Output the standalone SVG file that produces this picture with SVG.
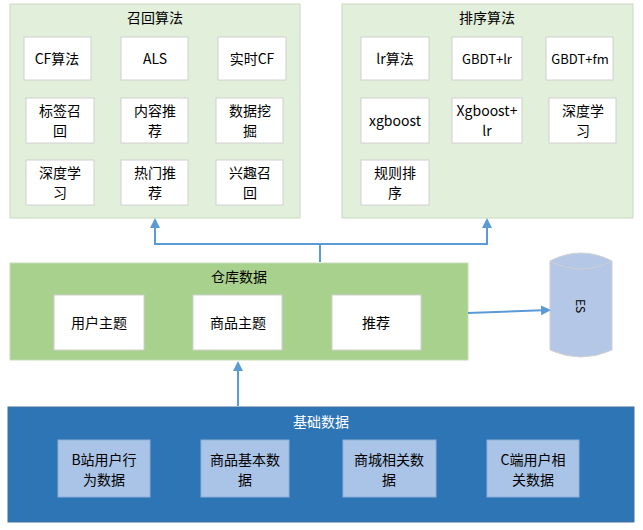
<svg xmlns="http://www.w3.org/2000/svg" width="643" height="530" viewBox="0 0 643 530">
<style>
text{font-family:"Microsoft YaHei","Noto Sans CJK SC",sans-serif;font-size:14px;text-anchor:middle;fill:#000}
.panel{fill:#e2efda;stroke:#c9d9c0;stroke-width:1}
.wb{fill:#fff;stroke:#d0d0d0;stroke-width:1}
.bb{fill:#a9c4e6;stroke:#8eb0d8;stroke-width:1}
.line{stroke:#5b9bd5;stroke-width:2;fill:none}
.w{fill:#fff}
</style>
<defs><marker id="a" markerWidth="10" markerHeight="10" refX="8" refY="5" orient="auto" markerUnits="userSpaceOnUse"><path d="M0,0L10,5L0,10z" fill="#5b9bd5"/></marker></defs>
<g id="recall">
<rect class="panel" x="10" y="4" width="290" height="214"/>
<text x="155" y="23">召回算法</text>
<rect class="wb" x="24" y="37" width="67" height="43"/><text x="57" y="64">CF算法</text>
<rect class="wb" x="121" y="37" width="67" height="43"/><text x="155" y="64">ALS</text>
<rect class="wb" x="218" y="37" width="68" height="43"/><text x="252" y="64">实时CF</text>
<rect class="wb" x="26" y="98" width="68" height="45"/><text x="60" y="116">标签召</text><text x="60" y="136">回</text>
<rect class="wb" x="121" y="98" width="67" height="45"/><text x="155" y="116">内容推</text><text x="155" y="136">荐</text>
<rect class="wb" x="216" y="98" width="67" height="45"/><text x="250" y="116">数据挖</text><text x="250" y="136">掘</text>
<rect class="wb" x="26" y="160" width="68" height="45"/><text x="60" y="178">深度学</text><text x="60" y="198">习</text>
<rect class="wb" x="121" y="160" width="67" height="45"/><text x="155" y="178">热门推</text><text x="155" y="198">荐</text>
<rect class="wb" x="216" y="160" width="67" height="45"/><text x="250" y="178">兴趣召</text><text x="250" y="198">回</text>
</g>
<g id="rank">
<rect class="panel" x="342" y="4" width="291" height="214"/>
<text x="487" y="23">排序算法</text>
<rect class="wb" x="361" y="37" width="68" height="43"/><text x="395" y="64">lr算法</text>
<rect class="wb" x="452" y="37" width="70" height="43"/><text x="487" y="64" style="font-size:13px">GBDT+lr</text>
<rect class="wb" x="546" y="37" width="67" height="43"/><text x="580" y="64" style="font-size:13px">GBDT+fm</text>
<rect class="wb" x="361" y="98" width="68" height="45"/><text x="395" y="126">xgboost</text>
<rect class="wb" x="452" y="98" width="70" height="45"/><text x="487" y="116">Xgboost+</text><text x="487" y="136">lr</text>
<rect class="wb" x="549" y="98" width="67" height="45"/><text x="583" y="116">深度学</text><text x="583" y="136">习</text>
<rect class="wb" x="361" y="160" width="68" height="45"/><text x="395" y="178">规则排</text><text x="395" y="198">序</text>
</g>
<g id="warehouse">
<rect x="10" y="263" width="458" height="97" fill="#a9d18e" stroke="#c5ddb5"/>
<text x="239" y="282">仓库数据</text>
<rect class="wb" x="54" y="295" width="90" height="55"/><text x="99" y="328">用户主题</text>
<rect class="wb" x="193" y="295" width="89" height="55"/><text x="238" y="328">商品主题</text>
<rect class="wb" x="332" y="295" width="89" height="55"/><text x="376" y="328">推荐</text>
</g>
<g id="es">
<path d="M550,261 Q581,245 612,261 L612,350 Q581,364 550,350 Z" fill="#b4c7e7" stroke="#cfcfcf"/>
<path d="M550,261 Q581,277 612,261" fill="none" stroke="#cfcfcf"/>
<text x="0" y="0" transform="translate(576,306) rotate(90)" style="font-size:12px">ES</text>
</g>
<g id="base">
<rect x="8" y="407" width="626" height="115" fill="#2e75b6" stroke="#41719c"/>
<text class="w" x="321" y="427">基础数据</text>
<rect class="bb" x="58" y="440" width="92" height="57"/><text x="104" y="465">B站用户行</text><text x="104" y="485">为数据</text>
<rect class="bb" x="201" y="440" width="88" height="57"/><text x="245" y="465">商品基本数</text><text x="245" y="485">据</text>
<rect class="bb" x="343" y="440" width="93" height="57"/><text x="389" y="465">商城相关数</text><text x="389" y="485">据</text>
<rect class="bb" x="487" y="440" width="92" height="57"/><text x="533" y="465">C端用户相</text><text x="533" y="485">关数据</text>
</g>
<g id="connectors">
<path class="line" d="M238,406V363" marker-end="url(#a)"/>
<path class="line" d="M320,262V244H155V220" marker-end="url(#a)"/>
<path class="line" d="M320,244H487V220" marker-end="url(#a)"/>
<path class="line" d="M468,313L549,310" marker-end="url(#a)"/>
</g>
</svg>
